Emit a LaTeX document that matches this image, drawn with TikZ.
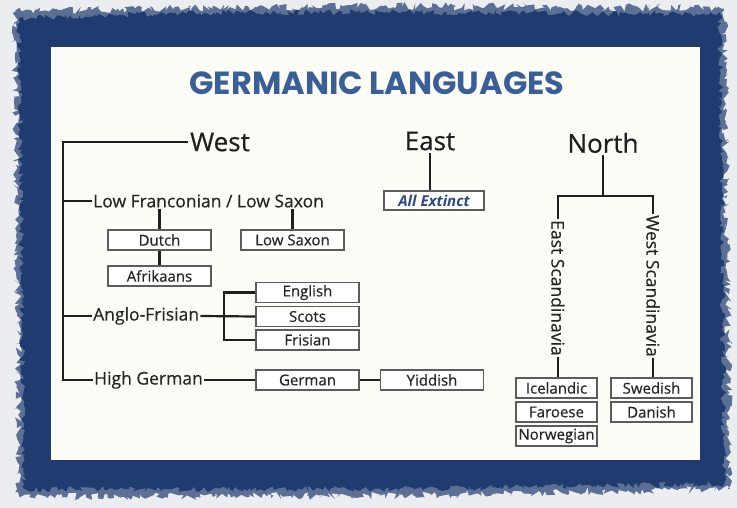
\documentclass[tikz,border=0pt]{standalone}
\usepackage{fontspec}
\setmainfont{Open Sans}
\newfontfamily\labelfont{Open Sans}[FakeBold=0.5]
\newfontfamily\titlefont{Poppins}
\usetikzlibrary{positioning, decorations.pathmorphing}
\definecolor{navy}{HTML}{1F3B70}
\definecolor{paper}{HTML}{FDFDF8}
\definecolor{haze}{HTML}{EBEDF0}
\definecolor{titleblue}{HTML}{3A5E98}
\definecolor{boxgray}{HTML}{5C5C5C}
\definecolor{inkgray}{HTML}{262626}
\definecolor{extinctblue}{HTML}{2A4A80}

\tikzset{
  head/.style={font=\labelfont\fontsize{26}{26}\selectfont, text=black!88, inner sep=2pt},
  branch/.style={font=\labelfont\fontsize{17.5}{17.5}\selectfont, text=inkgray, inner sep=1pt},
  langbox/.style={draw=boxgray, line width=1.5pt, fill=white, minimum width=103pt,
    minimum height=20pt, inner sep=0pt, font=\labelfont\fontsize{15}{15}\selectfont, text=inkgray},
  nordbox/.style={langbox, minimum width=81pt},
  conn/.style={line width=2.2pt, draw=black!88},
  rough/.style={decorate, decoration={random steps, segment length=2.5pt, amplitude=#1}},
}

\begin{document}
\begin{tikzpicture}[x=1pt, y=-1pt]

    % background and the painted frame:
    \useasboundingbox (0,0) rectangle (737,508);
    \fill[haze] (0,0) rectangle (737,508);
    \fill[navy!70!haze, rough=4pt]
        (15,11) -- (380,6) -- (724,8) -- (730,489) -- (380,496) -- (19,496) -- cycle;
    \fill[navy, rough=3pt]
        (19,18) -- (200,13) -- (380,12) -- (720,14) -- (724,484) -- (380,489) -- (24,489) -- cycle;
    \fill[paper] (51,47) rectangle (700,460);

    \node[font=\titlefont\bfseries\fontsize{32}{32}\selectfont, text=titleblue] (title) at (377,83) {GERMANIC LANGUAGES};

    % the three branches:
    \node[head] (west) at (220,142) {West};
    \node[head] (east) at (430,141) {East};
    \node[head] (north) at (603,143) {North};

    % West
    \node[branch, anchor=west] (lowfr) at (92,201) {Low Franconian / Low Saxon};
    \node[langbox] (dutch) at (159.5,240) {Dutch};
    \node[langbox] (lowsaxon) at (292.5,240) {Low Saxon};
    \node[langbox] (afrikaans) at (159.5,276) {Afrikaans};

    \node[branch, anchor=west] (anglo) at (92,316) {Anglo-Frisian};
    \node[langbox] (english) at (307.5,292.5) {English};
    \node[langbox] (scots) at (307.5,316.5) {Scots};
    \node[langbox] (frisian) at (307.5,340) {Frisian};

    \node[branch, anchor=west] (high) at (93,380) {High German};
    \node[langbox] (german) at (307.5,380) {German};
    \node[langbox] (yiddish) at (432,380) {Yiddish};

    \coordinate (trunk) at (63,142);
    \coordinate (afbar) at (224,316);
    \draw[conn] (west.west) -- (trunk) |- (high.west);
    \draw[conn] (trunk |- lowfr.west) -- (lowfr.west);
    \draw[conn] (trunk |- anglo.west) -- (anglo.west);
    \draw[conn] (dutch.north) -- (dutch.north |- lowfr.south);
    \draw[conn] (lowsaxon.north) -- (lowsaxon.north |- lowfr.south);
    \draw[conn] (dutch) -- (afrikaans);
    \draw[conn] (anglo.east) -- (scots.west);
    \draw[conn] (english.west) -| (afbar) |- (frisian.west);
    \draw[conn] (high.east) -- (german.west);
    \draw[conn] (german.east) -- (yiddish.west);

    % East
    \node[langbox, minimum width=100pt, minimum height=19pt, text=extinctblue,
        font=\bfseries\itshape\fontsize{15}{15}\selectfont] (extinct) at (434,200.5) {All Extinct};
    \draw[conn] (east.south) -- (east.south |- extinct.north);

    % North
    \node[branch, rotate=-90] (eastsc) at (558,288) {East Scandinavia};
    \node[branch, rotate=-90] (westsc) at (653,286) {West Scandinavia};
    \node[nordbox] (icelandic) at (556.5,388) {Icelandic};
    \node[nordbox] (faroese) at (556.5,412) {Faroese};
    \node[nordbox] (norwegian) at (556.5,436) {Norwegian};
    \node[nordbox] (swedish) at (651.5,388) {Swedish};
    \node[nordbox] (danish) at (651.5,412) {Danish};

    \coordinate (nsplit) at (603,196);
    \draw[conn] (north.south) -- (nsplit);
    \draw[conn] (eastsc.west) |- (nsplit) -| (westsc.west);
    \draw[conn] (eastsc.east) -- (eastsc.east |- icelandic.north);
    \draw[conn] (westsc.east) -- (westsc.east |- swedish.north);
%
\end{tikzpicture}
\end{document}
